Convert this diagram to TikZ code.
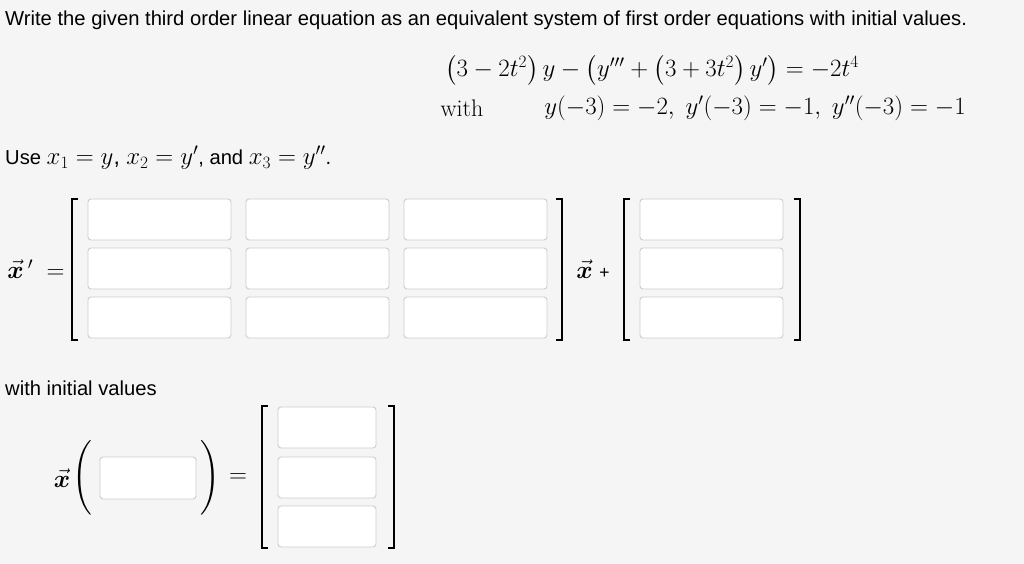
\documentclass[tikz,border=0pt]{standalone}
\usepackage{amsmath,bm}
\usepackage{fontspec}
\setmainfont{Liberation Sans}
\newfontfamily\lmr{Latin Modern Roman}
\begin{document}
\begin{tikzpicture}[x=1pt,y=-1pt,
  inbox/.style={draw=black!20,fill=white,rounded corners=3pt,line width=0.9pt},
  txt/.style={font=\fontsize{20.2}{23}\selectfont,inner sep=0pt},
  mth/.style={font=\fontsize{24}{28}\selectfont,inner sep=0pt},
  brk/.style={line width=1.5pt}]
\fill[black!4] (0,0) rectangle (1024,564);
\useasboundingbox (0,0) rectangle (1024,564);
\node[txt,anchor=west] (hdr) at (5,20) {Write the given third order linear equation as an equivalent system of first order equations with initial values.};
\node[mth] (eq) at (652,70) {$\bigl(3-2t^2\bigr)\,y-\bigl(y'''+\bigl(3+3t^2\bigr)\,y'\bigr)=-2t^4$};
\node[mth] (with) at (462,108) {\lmr with};
\node[mth] (ic) at (755,108) {$y(-3)=-2,\ y'(-3)=-1,\ y''(-3)=-1$};
\node[txt,anchor=west] (use) at (5,158) {Use {\fontsize{23}{26}\selectfont$x_1=y$, $x_2=y'$}, and {\fontsize{23}{26}\selectfont$x_3=y''$}.};
\node[txt,anchor=west] (wiv) at (5,388) {with initial values};
% main system
\node[mth] (xp) at (36,269) {$\vec{\bm{x}}\,'\ =$};
\draw[brk] (78,199) -- (72,199) -- (72,340) -- (78,340);
\draw[brk] (556,199) -- (562,199) -- (562,340) -- (556,340);
\foreach \c/\x in {1/88,2/246,3/404}{
  \foreach \r/\y in {1/199,2/248,3/297}{
    \draw[inbox] (\x,\y) rectangle ++(143,41);}}
\node[mth] (xplus) at (593,269) {$\vec{\bm{x}}$ \fontsize{17.5}{20}\selectfont +};
\draw[brk] (630,199) -- (624,199) -- (624,340) -- (630,340);
\draw[brk] (794,199) -- (800,199) -- (800,340) -- (794,340);
\foreach \y in {199,248,297}{\draw[inbox] (640,\y) rectangle ++(143,41);}
% initial values
\node[mth] (x0) at (62,478) {$\vec{\bm{x}}$};
\node[font=\fontsize{24}{28}\selectfont,inner sep=0pt] (lp) at (82,478) {$\Biggl($};
\draw[inbox] (100,457) rectangle (196,499);
\node[font=\fontsize{24}{28}\selectfont,inner sep=0pt] (rp) at (210,478) {$\Biggr)$};
\node[mth] (eq2) at (238,478) {$=$};
\draw[brk] (268,406) -- (262,406) -- (262,548) -- (268,548);
\draw[brk] (388,406) -- (394,406) -- (394,548) -- (388,548);
\foreach \y in {407,457,506}{\draw[inbox] (278,\y) rectangle ++(98,41);}
\end{tikzpicture}
\end{document}
